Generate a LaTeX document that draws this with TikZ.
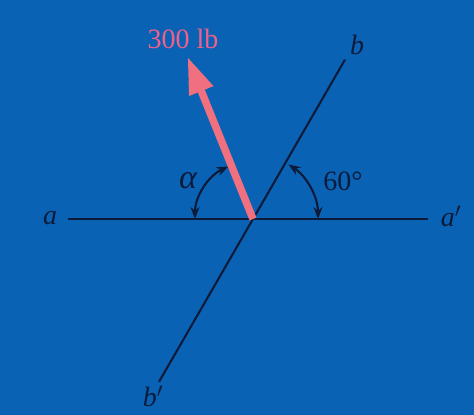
\documentclass[tikz,border=0pt]{standalone}
\usepackage{fontspec}
\setmainfont{Liberation Serif}
\usetikzlibrary{arrows.meta,calc}
\definecolor{bg}{HTML}{0A62B4}
\definecolor{ink}{HTML}{0D1B3A}
\definecolor{force}{HTML}{F07080}
\definecolor{forcetxt}{HTML}{F0608A}
\begin{document}
\begin{tikzpicture}[x=1pt,y=1pt,
  lbl/.style={font=\fontsize{28}{28}\selectfont, text=ink, inner sep=0pt},
  axis/.style={draw=ink, line width=2.1pt},
  anglearc/.style={draw=ink, line width=2.1pt, {Stealth[length=12pt,width=9pt]}-{Stealth[length=12pt,width=9pt]}}]
\fill[bg] (0,0) rectangle (474,415);
\useasboundingbox (0,0) rectangle (474,415);
\coordinate (O) at (253,196);
\coordinate (A) at (68,196);
\coordinate (A2) at (428,196);
\coordinate (B) at ($(O)+(60:184)$);
\coordinate (B2) at ($(O)+(240:188)$);
\coordinate (F) at ($(O)+(112:175)$);
\draw[axis] (A) -- (A2);
\draw[axis] (B2) -- (B);
\draw[anglearc] ([shift={(180:58)}]O) arc[start angle=180, end angle=115, radius=58];
\draw[anglearc] ([shift={(0:65)}]O) arc[start angle=0, end angle=57, radius=65];
\draw[force, line width=7.5pt, -{Triangle[length=37pt,width=24pt]}] (O) -- (F);
\node[lbl, text=forcetxt] (load) at (183,376) {300 lb};
\node[lbl] (la) at (50,197) {\itshape a};
\node[lbl] (la2) at (451,199) {\itshape a$'$};
\node[lbl] (lb) at (357,370) {\itshape b};
\node[lbl] (lb2) at (153,19) {\itshape b$'$};
\node[lbl, font=\fontsize{34}{34}\selectfont] (alpha) at (188,234) {\itshape α};
\node[lbl] (sixty) at (343,234) {60°};
\end{tikzpicture}
\end{document}
